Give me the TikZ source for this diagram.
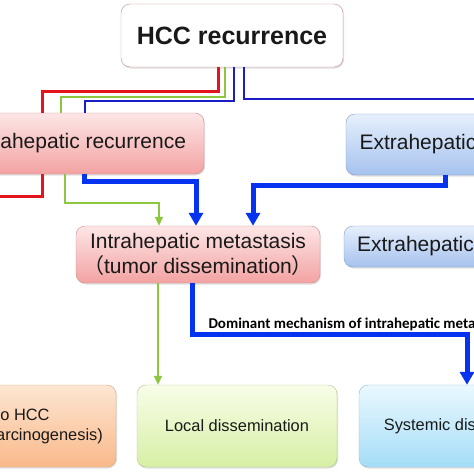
\documentclass[tikz,border=0pt]{standalone}
\usepackage{fontspec}
\setmainfont{Liberation Sans}
\newfontfamily\calb{Carlito}
\newfontfamily\cjk{Noto Sans CJK JP}
\usetikzlibrary{arrows.meta,shadows}

\definecolor{pinktop}{HTML}{FDE6E6}
\definecolor{pinkbot}{HTML}{F3A2A2}
\definecolor{pinkline}{HTML}{C98C8C}
\definecolor{bluetop}{HTML}{E6EFFC}
\definecolor{bluebot}{HTML}{A6C2EE}
\definecolor{blueline}{HTML}{7F9CC8}
\definecolor{orgtop}{HTML}{FDE6D2}
\definecolor{orgbot}{HTML}{F9B98A}
\definecolor{orgline}{HTML}{D9A47A}
\definecolor{grntop}{HTML}{F8FDE8}
\definecolor{grnbot}{HTML}{D7EFA5}
\definecolor{grnline}{HTML}{AAC888}
\definecolor{skytop}{HTML}{EAF8FF}
\definecolor{skybot}{HTML}{A4DDF7}
\definecolor{skyline}{HTML}{8CB9D0}
\definecolor{redln}{HTML}{E3141C}
\definecolor{grnln}{HTML}{8DC63F}
\definecolor{bthinln}{HTML}{1A1EC4}
\definecolor{bthickln}{HTML}{0533F0}

\begin{document}
\begin{tikzpicture}[x=1pt, y=-1pt,
  box/.style={draw, rounded corners=9pt, align=center, inner sep=0pt, text=black!90,
              drop shadow={shadow xshift=1pt, shadow yshift=-1.5pt, opacity=0.25},
              font=\fontsize{21}{25}\selectfont},
  small/.style={font=\fontsize{16.4}{20}\selectfont},
  pinkbox/.style={box, draw=pinkline, top color=pinktop, bottom color=pinkbot},
  bluebox/.style={box, draw=blueline, top color=bluetop, bottom color=bluebot},
  redl/.style={draw=redln, line width=3pt},
  grn/.style={draw=grnln, line width=1.8pt},
  grnarr/.style={grn, -{Triangle[length=9pt, width=8pt]}},
  bthin/.style={draw=bthinln, line width=2pt},
  bthick/.style={draw=bthickln, line width=5pt, -{Triangle[length=13pt, width=14pt]}},
  lbl/.style={font=\calb\bfseries\fontsize{15}{17}\selectfont, anchor=base west}
]
  \useasboundingbox (0,0) rectangle (474,474);
  \clip (0,0) rectangle (474,474);

  % boxes
  \node[box, draw=pinkline, fill=white, minimum width=222pt, minimum height=63pt,
        font=\bfseries\fontsize{25}{28}\selectfont] (hcc) at (232,35.5) {HCC recurrence};
  \node[pinkbox, minimum width=252pt, minimum height=61pt] (intrarec) at (78,143.5) {Intrahepatic recurrence};
  \node[bluebox, minimum width=250pt, minimum height=61pt] (extrarec) at (471,144.5) {Extrahepatic recurrence};
  \node[pinkbox, minimum width=244pt, minimum height=57pt] (intramet) at (198,254.5)
       {Intrahepatic metastasis\\{\cjk （}tumor dissemination{\cjk ）}};
  \node[bluebox, minimum width=249pt, minimum height=41pt] (extramet) at (468.5,246.5) {Extrahepatic metastasis};
  \node[box, small, draw=orgline, top color=orgtop, bottom color=orgbot,
        minimum width=234pt, minimum height=82pt] (denovo) at (-1,426)
       {De novo HCC\\(multicentric carcinogenesis)};
  \node[box, small, draw=grnline, top color=grntop, bottom color=grnbot,
        minimum width=200pt, minimum height=82pt] (local) at (237,426) {Local dissemination};
  \node[box, small, draw=skyline, top color=skytop, bottom color=skybot,
        minimum width=221pt, minimum height=82pt] (systemic) at (469.5,426) {Systemic dissemination};

  % bends
  \coordinate (r1) at (42,91);
  \coordinate (r2) at (-30,196);
  \coordinate (g1) at (61,97);
  \coordinate (g2) at (65,203);
  \coordinate (g3) at ([xshift=-40pt]intramet.south);
  \coordinate (b1) at (85,101);
  \coordinate (b2) at (520,99);
  \coordinate (k1) at (84,181);
  \coordinate (k2) at (445,185);
  \coordinate (k3) at (192,334);

  % from HCC recurrence
  \draw[redl] ([xshift=-14pt]hcc.south) |- (r1) -- (r1 |- intrarec.north);
  \draw[grn] ([xshift=-7pt]hcc.south) |- (g1) -- (g1 |- intrarec.north);
  \draw[bthin] ([xshift=2pt]hcc.south) |- (b1) -- (b1 |- intrarec.north);
  \draw[bthin] ([xshift=12pt]hcc.south) |- (b2) -- (b2 |- extrarec.north);

  % second row
  \draw[redl] (r1 |- intrarec.south) |- (r2) -- (r2 |- denovo.north);
  \draw[grnarr] (g2 |- intrarec.south) -- (g2) -| ([xshift=-39pt]intramet.north);
  \draw[bthick] (k1 |- intrarec.south) -- (k1) -| ([xshift=-2pt]intramet.north);
  \draw[bthick] (k2 |- extrarec.south) -- (k2) -| ([xshift=55pt]intramet.north);

  % third row
  \draw[grnarr] (g3) -- (g3 |- local.north);
  \draw[bthick] (k3 |- intramet.south) -- (k3) -| ([xshift=-2.5pt]systemic.north);
  \node[lbl] (dom) at (205,328) {Dominant mechanism of intrahepatic metastasis};
\end{tikzpicture}
\end{document}
